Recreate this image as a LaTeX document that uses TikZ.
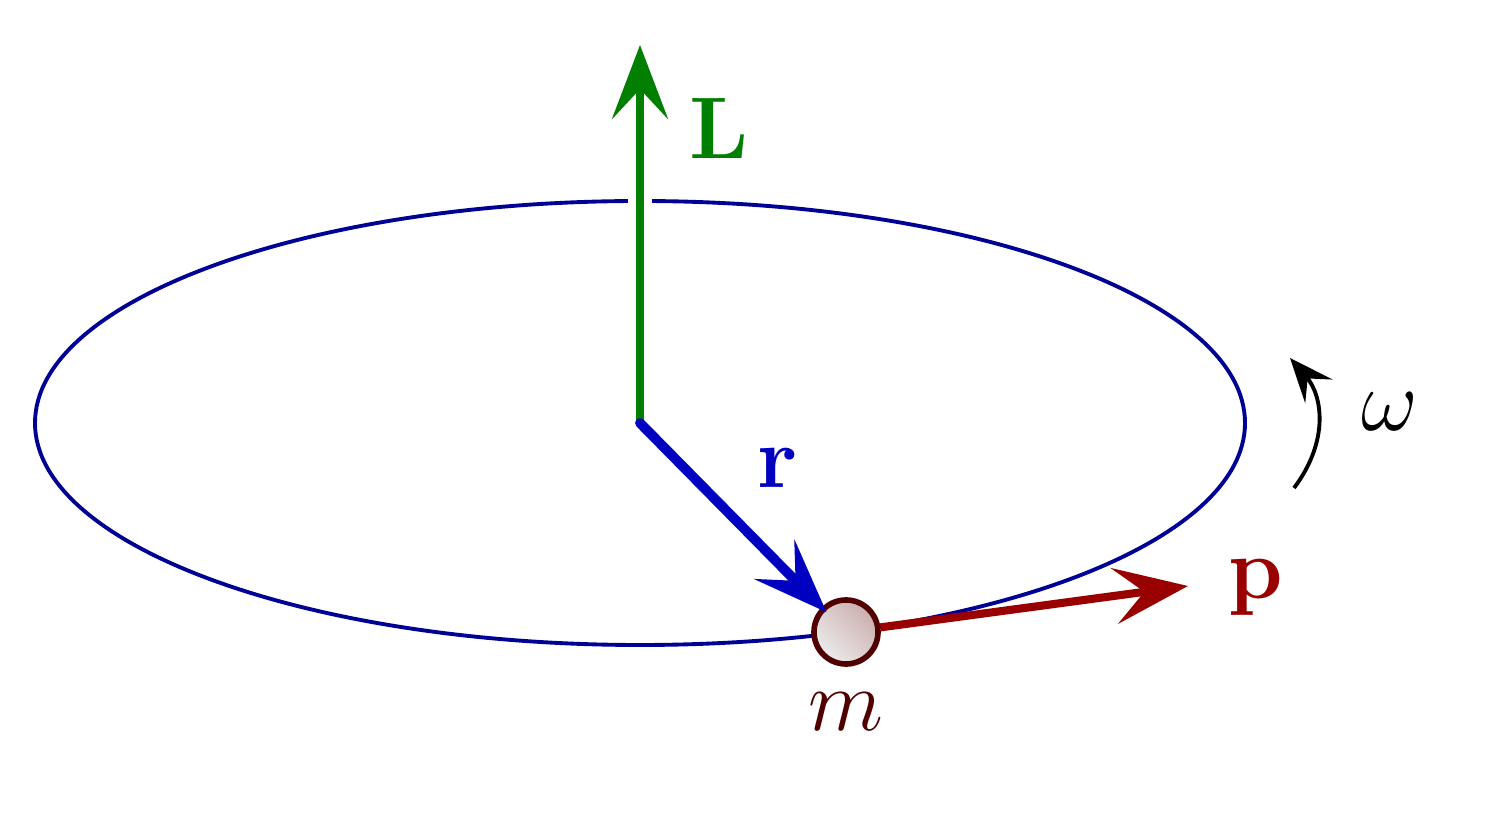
\documentclass[tikz,border=0pt]{standalone}
\usepackage{bm}
\usetikzlibrary{arrows.meta, positioning}
\definecolor{orbitblue}{HTML}{000095}
\definecolor{vecgreen}{HTML}{007F00}
\definecolor{vecblue}{HTML}{0000C0}
\definecolor{vecred}{HTML}{990000}
\definecolor{massred}{HTML}{500000}
\tikzset{
  vec/.style={line width=#1, -{Stealth[length=0.74cm, width=0.56cm, inset=0.3cm]}},
  lbl/.style={font=\fontsize{34}{34}\selectfont},
}
\begin{document}
\begin{tikzpicture}[x=0.01cm, y=-0.01cm]
  \useasboundingbox (0,0) rectangle (1500,813);
  \coordinate (O) at (640,423);
  \coordinate (Ltip) at (640,45);
  \coordinate (ptip) at (1188,586);

  % orbit
  \draw[orbitblue, line width=1.1pt] (O) ellipse [x radius=605, y radius=222];
  \draw[white, line width=0.24cm] (640,190) -- (640,212);

  % angular momentum
  \draw[vecgreen, vec=2.3pt, line cap=round] (O) -- (Ltip);
  \node[lbl, text=vecgreen, anchor=west] (Llab) at (677,128) {$\mathbf{L}$};

  % mass
  \node[circle, minimum size=0.64cm, inner sep=0pt, line width=1.6pt, draw=massred,
        top color=white!85!gray, bottom color=white!80!red!60!gray, shading angle=135] (m) at (846,632) {};
  \node[lbl, text=massred] (mlab) at (846,712) {$m$};

  % position and momentum
  \draw[vecblue, vec=2.8pt, line cap=round, shorten >=-2pt] (O) -- (m);
  \node[lbl, text=vecblue] (rlab) at (778,468) {$\mathbf{r}$};
  \draw[vecred, vec=2.3pt] (m) -- (ptip);
  \node[lbl, text=vecred] (plab) at (1256,588) {$\mathbf{p}$};

  % rotation
  \draw[line width=1.1pt, -{Stealth[length=0.44cm, width=0.36cm, inset=0.17cm]}]
    (1294,488) .. controls (1330,440) and (1322,395) .. (1290,358);
  \node[lbl] (wlab) at (1390,412) {$\omega$};
\end{tikzpicture}
\end{document}
